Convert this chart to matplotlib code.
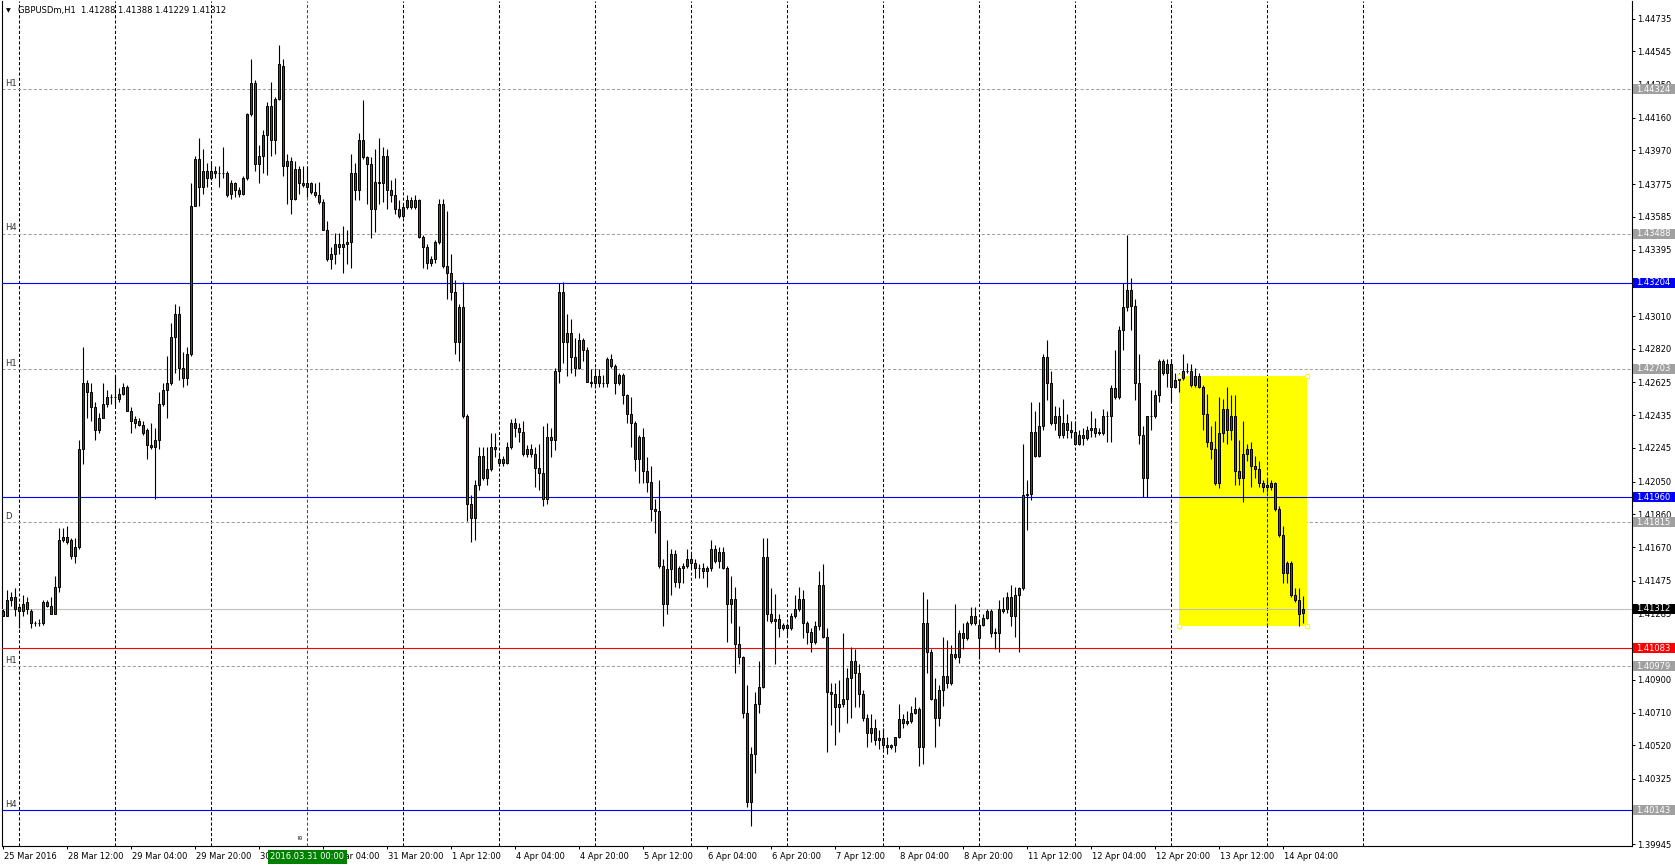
import matplotlib
matplotlib.use("Agg")
import matplotlib.pyplot as plt
from matplotlib.patches import Rectangle
from matplotlib.transforms import blended_transform_factory
import numpy as np

# ---------------- data (GBPUSDm, H1 bars from 25 Mar 2016 20:00) ----------------
symbol = "GBPUSDm,H1"

bar_open = [
1.4130,1.4127,1.4136,1.4138,1.4132,1.4130,1.4131,1.4130,1.4123,1.4123,
1.4123,1.4133,1.4133,1.4128,1.4144,1.4171,1.4173,1.4171,1.4162,1.4167,
1.4224,1.4262,1.4257,1.4248,1.4235,1.4242,1.4250,1.4254,1.4254,1.4253,
1.4256,1.4260,1.4246,1.4241,1.4240,1.4238,1.4235,1.4226,1.4225,1.4229,
1.4250,1.4258,1.4262,1.4289,1.4302,1.4271,1.4265,1.4279,1.4365,1.4392,
1.4376,1.4385,1.4381,1.4385,1.4384,1.4384,1.4384,1.4372,1.4378,1.4374,
1.4372,1.4381,1.4418,1.4436,1.4389,1.4394,1.4406,1.4423,1.4403,1.4427,
1.4446,1.4388,1.4391,1.4369,1.4386,1.4378,1.4376,1.4378,1.4373,1.4371,
1.4367,1.4351,1.4334,1.4337,1.4343,1.4341,1.4343,1.4344,1.4384,1.4374,
1.4403,1.4393,1.4389,1.4363,1.4379,1.4378,1.4394,1.4374,1.4371,1.4363,
1.4359,1.4364,1.4368,1.4364,1.4368,1.4347,1.4341,1.4332,1.4334,1.4344,
1.4366,1.4330,1.4326,1.4315,1.4286,1.4306,1.4243,1.4192,1.4184,1.4203,
1.4220,1.4207,1.4212,1.4225,1.4216,1.4218,1.4216,1.4225,1.4239,1.4236,
1.4234,1.4221,1.4224,1.4221,1.4213,1.4210,1.4195,1.4231,1.4229,1.4269,
1.4315,1.4286,1.4291,1.4277,1.4271,1.4287,1.4281,1.4263,1.4262,1.4266,
1.4262,1.4262,1.4276,1.4272,1.4262,1.4267,1.4255,1.4244,1.4239,1.4218,
1.4231,1.4211,1.4205,1.4189,1.4188,1.4156,1.4134,1.4154,1.4163,1.4147,
1.4155,1.4156,1.4160,1.4158,1.4155,1.4155,1.4153,1.4155,1.4166,1.4159,
1.4164,1.4155,1.4134,1.4137,1.4111,1.4103,1.4071,1.4019,1.4047,1.4076,
1.4086,1.4161,1.4128,1.4124,1.4125,1.4120,1.4122,1.4120,1.4127,1.4131,
1.4137,1.4123,1.4118,1.4112,1.4121,1.4145,1.4115,1.4083,1.4082,1.4074,
1.4076,1.4079,1.4091,1.4101,1.4094,1.4082,1.4068,1.4059,1.4062,1.4055,
1.4056,1.4052,1.4051,1.4052,1.4057,1.4067,1.4065,1.4066,1.4071,1.4073,
1.4051,1.4123,1.4106,1.4079,1.4068,1.4084,1.4092,1.4088,1.4105,1.4103,
1.4117,1.4114,1.4123,1.4127,1.4114,1.4122,1.4126,1.4130,1.4118,1.4117,
1.4130,1.4131,1.4138,1.4127,1.4139,1.4143,1.4197,1.4198,1.4234,1.4220,
1.4237,1.4277,1.4262,1.4239,1.4243,1.4232,1.4239,1.4235,1.4234,1.4227,
1.4232,1.4230,1.4235,1.4236,1.4234,1.4233,1.4243,1.4243,1.4259,1.4254,
1.4293,1.4306,1.4316,1.4307,1.4262,1.4232,1.4207,1.4243,1.4243,1.4255,
1.4275,1.4268,1.4273,1.4260,1.4264,1.4265,1.4269,1.4269,1.4261,1.4266,
1.4260,1.4244,1.4228,1.4224,1.4204,1.4233,1.4247,1.4235,1.4243,1.4211,
1.4207,1.4221,1.4224,1.4214,1.4212,1.4204,1.4202,1.4202,1.4204,1.4189,
1.4174,1.4152,1.4158,1.4139,1.4136,1.41288]

bar_high = [
1.4131,1.4142,1.4141,1.4143,1.4133,1.4139,1.4138,1.4131,1.4124,1.4125,
1.4136,1.4136,1.4138,1.4150,1.4178,1.4178,1.4179,1.4172,1.4172,1.4229,
1.4283,1.4264,1.4262,1.4251,1.4245,1.4262,1.4258,1.4256,1.4267,1.4259,
1.4262,1.4261,1.4248,1.4243,1.4242,1.4240,1.4236,1.4239,1.4236,1.4257,
1.4262,1.4278,1.4297,1.4308,1.4307,1.4280,1.4283,1.4378,1.4394,1.4404,
1.4398,1.4390,1.4391,1.4388,1.4388,1.4399,1.4385,1.4380,1.4379,1.4376,
1.4382,1.4419,1.4450,1.4438,1.4400,1.4409,1.4425,1.4437,1.4428,1.4458,
1.4450,1.4395,1.4393,1.4391,1.4388,1.4388,1.4388,1.4379,1.4378,1.4379,
1.4369,1.4356,1.4341,1.4349,1.4349,1.4353,1.4351,1.4395,1.4390,1.4407,
1.4426,1.4394,1.4393,1.4398,1.4404,1.4399,1.4398,1.4380,1.4381,1.4368,
1.4366,1.4371,1.4370,1.4371,1.4369,1.4348,1.4343,1.4336,1.4345,1.4369,
1.4369,1.4362,1.4337,1.4322,1.4308,1.4321,1.4244,1.4197,1.4206,1.4225,
1.4225,1.4225,1.4233,1.4233,1.4221,1.4220,1.4228,1.4241,1.4242,1.4239,
1.4240,1.4226,1.4227,1.4225,1.4227,1.4237,1.4239,1.4236,1.4271,1.4320,
1.4321,1.4302,1.4299,1.4288,1.4291,1.4288,1.4283,1.4270,1.4271,1.4270,
1.4267,1.4277,1.4279,1.4273,1.4268,1.4268,1.4256,1.4254,1.4240,1.4232,
1.4236,1.4219,1.4214,1.4195,1.4206,1.4160,1.4171,1.4166,1.4165,1.4156,
1.4158,1.4166,1.4163,1.4160,1.4157,1.4158,1.4156,1.4171,1.4168,1.4167,
1.4167,1.4156,1.4150,1.4144,1.4121,1.4104,1.4087,1.4051,1.4083,1.4101,
1.4172,1.4172,1.4143,1.4140,1.4128,1.4123,1.4123,1.4129,1.4139,1.4144,
1.4142,1.4124,1.4120,1.4124,1.4153,1.4157,1.4120,1.4088,1.4088,1.4090,
1.4117,1.4097,1.4109,1.4108,1.4099,1.4084,1.4070,1.4070,1.4067,1.4061,
1.4062,1.4057,1.4053,1.4057,1.4076,1.4070,1.4072,1.4075,1.4080,1.4074,
1.4141,1.4137,1.4108,1.4091,1.4087,1.4115,1.4113,1.4110,1.4134,1.4119,
1.4123,1.4124,1.4132,1.4132,1.4124,1.4128,1.4131,1.4131,1.4120,1.4136,
1.4138,1.4141,1.4145,1.4144,1.4144,1.4227,1.4206,1.4251,1.4246,1.4251,
1.4279,1.4287,1.4269,1.4249,1.4248,1.4253,1.4244,1.4240,1.4240,1.4235,
1.4236,1.4237,1.4246,1.4242,1.4236,1.4247,1.4246,1.4261,1.4281,1.4295,
1.4320,1.4348,1.4323,1.4311,1.4279,1.4237,1.4243,1.4258,1.4258,1.4276,
1.4276,1.4276,1.4276,1.4268,1.4268,1.4279,1.4274,1.4273,1.4271,1.4268,
1.4261,1.4256,1.4237,1.4240,1.4254,1.4253,1.4260,1.4255,1.4255,1.4229,
1.4240,1.4227,1.4228,1.4220,1.4217,1.4206,1.4207,1.4206,1.4205,1.4191,
1.4179,1.4159,1.4159,1.4143,1.4143,1.41388]

bar_low = [
1.4127,1.4127,1.4133,1.4127,1.4120,1.4127,1.4128,1.4120,1.4121,1.4121,
1.4122,1.4132,1.4128,1.4128,1.4141,1.4170,1.4169,1.4160,1.4158,1.4166,
1.4215,1.4242,1.4240,1.4229,1.4233,1.4242,1.4248,1.4250,1.4249,1.4251,
1.4255,1.4246,1.4233,1.4236,1.4237,1.4232,1.4218,1.4224,1.4195,1.4224,
1.4249,1.4242,1.4261,1.4268,1.4264,1.4260,1.4261,1.4278,1.4365,1.4365,
1.4372,1.4376,1.4380,1.4381,1.4376,1.4381,1.4370,1.4369,1.4370,1.4370,
1.4371,1.4380,1.4417,1.4385,1.4378,1.4384,1.4383,1.4394,1.4395,1.4426,
1.4382,1.4366,1.4360,1.4368,1.4372,1.4376,1.4370,1.4372,1.4370,1.4366,
1.4351,1.4333,1.4328,1.4331,1.4337,1.4326,1.4331,1.4329,1.4368,1.4368,
1.4392,1.4366,1.4346,1.4350,1.4366,1.4367,1.4363,1.4367,1.4360,1.4358,
1.4358,1.4363,1.4363,1.4363,1.4346,1.4329,1.4328,1.4330,1.4332,1.4343,
1.4329,1.4311,1.4310,1.4279,1.4275,1.4242,1.4182,1.4170,1.4171,1.4200,
1.4206,1.4203,1.4211,1.4219,1.4214,1.4214,1.4215,1.4224,1.4231,1.4228,
1.4220,1.4219,1.4219,1.4202,1.4200,1.4191,1.4192,1.4219,1.4223,1.4262,
1.4274,1.4266,1.4268,1.4266,1.4270,1.4275,1.4263,1.4260,1.4259,1.4260,
1.4260,1.4260,1.4271,1.4256,1.4261,1.4250,1.4239,1.4225,1.4211,1.4204,
1.4204,1.4199,1.4182,1.4175,1.4155,1.4121,1.4128,1.4139,1.4144,1.4143,
1.4146,1.4155,1.4155,1.4149,1.4149,1.4149,1.4144,1.4153,1.4158,1.4155,
1.4154,1.4112,1.4123,1.4094,1.4099,1.4068,1.4016,1.4005,1.4036,1.4071,
1.4085,1.4124,1.4123,1.4099,1.4115,1.4119,1.4116,1.4119,1.4126,1.4130,
1.4114,1.4111,1.4106,1.4111,1.4119,1.4114,1.4048,1.4064,1.4052,1.4060,
1.4074,1.4065,1.4068,1.4074,1.4074,1.4066,1.4051,1.4054,1.4052,1.4050,
1.4050,1.4047,1.4050,1.4048,1.4056,1.4062,1.4064,1.4065,1.4070,1.4040,
1.4041,1.4094,1.4078,1.4051,1.4063,1.4075,1.4085,1.4087,1.4102,1.4100,
1.4108,1.4113,1.4122,1.4122,1.4102,1.4121,1.4125,1.4115,1.4108,1.4106,
1.4129,1.4129,1.4121,1.4115,1.4106,1.4142,1.4177,1.4194,1.4219,1.4219,
1.4235,1.4252,1.4238,1.4235,1.4230,1.4230,1.4230,1.4230,1.4226,1.4226,
1.4226,1.4229,1.4231,1.4231,1.4232,1.4232,1.4228,1.4228,1.4253,1.4253,
1.4281,1.4304,1.4293,1.4252,1.4227,1.4196,1.4196,1.4235,1.4242,1.4251,
1.4267,1.4260,1.4251,1.4259,1.4257,1.4264,1.4268,1.4260,1.4260,1.4259,
1.4235,1.4225,1.4218,1.4203,1.4201,1.4228,1.4227,1.4229,1.4203,1.4203,
1.4193,1.4217,1.4202,1.4207,1.4202,1.4199,1.4199,1.4200,1.4188,1.4173,
1.4146,1.4146,1.4138,1.4135,1.4121,1.41229]

bar_close = [
1.4127,1.4136,1.4138,1.4131,1.4130,1.4134,1.4135,1.4123,1.4123,1.4123,
1.4135,1.4135,1.4128,1.4144,1.4171,1.4173,1.4170,1.4162,1.4167,1.4224,
1.4262,1.4257,1.4248,1.4235,1.4242,1.4250,1.4254,1.4254,1.4254,1.4256,
1.4260,1.4246,1.4240,1.4239,1.4238,1.4233,1.4226,1.4225,1.4229,1.4250,
1.4258,1.4262,1.4289,1.4302,1.4271,1.4265,1.4279,1.4365,1.4392,1.4376,
1.4385,1.4381,1.4385,1.4384,1.4384,1.4384,1.4371,1.4378,1.4374,1.4372,
1.4381,1.4418,1.4436,1.4389,1.4394,1.4406,1.4423,1.4403,1.4427,1.4447,
1.4388,1.4391,1.4369,1.4386,1.4378,1.4377,1.4378,1.4373,1.4371,1.4367,
1.4351,1.4334,1.4337,1.4343,1.4341,1.4343,1.4344,1.4384,1.4374,1.4403,
1.4393,1.4389,1.4363,1.4379,1.4378,1.4394,1.4374,1.4371,1.4363,1.4359,
1.4364,1.4368,1.4364,1.4368,1.4347,1.4341,1.4332,1.4334,1.4344,1.4366,
1.4330,1.4326,1.4315,1.4286,1.4306,1.4243,1.4192,1.4184,1.4203,1.4220,
1.4207,1.4212,1.4225,1.4224,1.4218,1.4216,1.4225,1.4239,1.4236,1.4234,
1.4221,1.4224,1.4221,1.4213,1.4210,1.4195,1.4231,1.4229,1.4269,1.4315,
1.4286,1.4291,1.4277,1.4271,1.4287,1.4281,1.4263,1.4262,1.4266,1.4262,
1.4262,1.4276,1.4272,1.4262,1.4267,1.4255,1.4244,1.4239,1.4218,1.4231,
1.4211,1.4205,1.4189,1.4188,1.4156,1.4134,1.4154,1.4163,1.4147,1.4155,
1.4156,1.4160,1.4158,1.4155,1.4155,1.4153,1.4155,1.4166,1.4159,1.4164,
1.4155,1.4134,1.4137,1.4111,1.4103,1.4071,1.4019,1.4047,1.4076,1.4086,
1.4161,1.4128,1.4124,1.4125,1.4120,1.4122,1.4120,1.4127,1.4131,1.4137,
1.4123,1.4118,1.4112,1.4121,1.4145,1.4115,1.4083,1.4082,1.4074,1.4076,
1.4079,1.4091,1.4101,1.4094,1.4082,1.4068,1.4059,1.4062,1.4055,1.4056,
1.4052,1.4051,1.4052,1.4057,1.4067,1.4065,1.4066,1.4071,1.4073,1.4051,
1.4123,1.4106,1.4079,1.4068,1.4084,1.4092,1.4088,1.4105,1.4103,1.4117,
1.4114,1.4123,1.4127,1.4123,1.4122,1.4126,1.4130,1.4117,1.4117,1.4131,
1.4131,1.4138,1.4127,1.4139,1.4143,1.4197,1.4198,1.4234,1.4220,1.4237,
1.4277,1.4262,1.4239,1.4243,1.4232,1.4239,1.4235,1.4234,1.4227,1.4232,
1.4230,1.4235,1.4236,1.4233,1.4233,1.4243,1.4243,1.4259,1.4254,1.4293,
1.4306,1.4316,1.4307,1.4262,1.4232,1.4207,1.4243,1.4243,1.4255,1.4275,
1.4268,1.4273,1.4260,1.4264,1.4265,1.4269,1.4269,1.4261,1.4266,1.4260,
1.4244,1.4228,1.4224,1.4204,1.4233,1.4247,1.4235,1.4243,1.4211,1.4207,
1.4221,1.4224,1.4214,1.4212,1.4204,1.4202,1.4203,1.4204,1.4189,1.4174,
1.4152,1.4158,1.4139,1.4136,1.4128,1.41312]

# time axis labels: one every 16 bars, starting at bar 0
time_labels = ["25 Mar 2016", "28 Mar 12:00", "29 Mar 04:00", "29 Mar 20:00",
               "30 Mar 12:00", "31 Mar 04:00", "31 Mar 20:00", "1 Apr 12:00",
               "4 Apr 04:00", "4 Apr 20:00", "5 Apr 12:00", "6 Apr 04:00",
               "6 Apr 20:00", "7 Apr 12:00", "8 Apr 04:00", "8 Apr 20:00",
               "11 Apr 12:00", "12 Apr 04:00", "12 Apr 20:00", "13 Apr 12:00",
               "14 Apr 04:00"]
time_label_step = 16
# bars that start a new trading day (period separators)
day_start_bars = [4, 28, 52, 100, 124, 148, 172, 196, 220, 244, 268, 292, 316, 340]
marker_bar = 76
marker_label = "2016.03.31 00:00"

# price scale labels
price_ticks = [1.44735, 1.44545, 1.44350, 1.44160, 1.43970, 1.43775, 1.43585,
               1.43395, 1.43205, 1.43010, 1.42820, 1.42625, 1.42435, 1.42245,
               1.42050, 1.41860, 1.41670, 1.41475, 1.41285, 1.41090, 1.40900,
               1.40710, 1.40520, 1.40325, 1.40135, 1.39945]

# pivot-type levels (grey dashed) and their timeframe tags
level_prices = [1.44324, 1.43488, 1.42703, 1.41815, 1.40979, 1.40143]
level_tags = ["H1", "H4", "H1", "D", "H1", "H4"]
blue_lines = [1.43204, 1.41960, 1.40143]
red_lines = [1.41083]

# yellow rectangle object (bar range, price range)
rect_bar_start, rect_bar_end = 294, 326
rect_price_low, rect_price_high = 1.41212, 1.42662

# ---------------- drawing ----------------
W, H = 1675, 867
FS = 6.0
plt.rcParams["font.family"] = ["DejaVu Sans"]
fig = plt.figure(figsize=(W / 100, H / 100), dpi=100, facecolor="white")
ax = fig.add_axes([2 / W, 21 / H, 1630 / W, 845 / H])
ax.set_facecolor("white")
ax.set_xlim(-0.325, 407.175)
ax.set_ylim(1.39936, 1.44837)

o = np.array(bar_open)
h = np.array(bar_high)
l = np.array(bar_low)
c = np.array(bar_close)
x = np.arange(len(o))

dash = (0, (3, 2))
# period separators
for d in day_start_bars:
    ax.axvline(d, color="black", lw=0.75, ls=dash, zorder=1)
ax.axvline(marker_bar, color="#008000", lw=0.75, ls=dash, zorder=1.1)

# grey dashed levels
for p in level_prices:
    ax.axhline(p, color="#a0a0a0", lw=0.75, ls=dash, zorder=1)

# yellow rectangle
ax.add_patch(Rectangle((rect_bar_start, rect_price_low), rect_bar_end - rect_bar_start,
                       rect_price_high - rect_price_low, facecolor="#ffff00",
                       edgecolor="none", zorder=1.5))
for d in day_start_bars:
    if rect_bar_start < d < rect_bar_end:
        ax.vlines(d, rect_price_low, rect_price_high, color="#0000a0", lw=0.75,
                  ls=dash, zorder=1.6)

# solid levels
for p in blue_lines:
    ax.axhline(p, color="#0000ff", lw=0.8, zorder=3)
for p in red_lines:
    ax.axhline(p, color="#ff0000", lw=0.8, zorder=3)
ax.axhline(c[-1], color="#c0c0c0", lw=0.8, zorder=3)

# candles
ax.vlines(x, l, h, color="black", lw=0.8, zorder=4)
up = c >= o
colors = np.where(up, "#008000", "#ff0000")
ax.bar(x, np.abs(c - o), bottom=np.minimum(o, c), width=0.55, color=colors,
       edgecolor="black", linewidth=0.7, zorder=5)

# rectangle handles
ax.plot([rect_bar_start, rect_bar_end, rect_bar_start, rect_bar_end],
        [rect_price_low, rect_price_low, rect_price_high, rect_price_high],
        ls="none", marker="s", ms=3, mfc="white", mec="#ffff00", mew=0.8, zorder=6)

# spines
ax.spines["top"].set_visible(False)
for s in ["left", "right", "bottom"]:
    ax.spines[s].set_color("black")
    ax.spines[s].set_linewidth(0.8)

# right price scale
ax.yaxis.tick_right()
ax.set_yticks(price_ticks)
ax.set_yticklabels([f"{v:.5f}" for v in price_ticks])
ax.tick_params(axis="y", direction="out", length=2.5, width=0.7, pad=1.5,
               labelsize=FS, colors="black")

# bottom time scale
tick_pos = [k * time_label_step for k in range(len(time_labels))]
ax.set_xticks(tick_pos)
ax.set_xticklabels([""] * len(tick_pos))
ax.tick_params(axis="x", direction="out", length=2.5, width=0.7)
bx = blended_transform_factory(ax.transData, ax.transAxes)
for pos, lab in zip(tick_pos, time_labels):
    ax.text(pos + 0.3, -10.5 / 845, lab, transform=bx, ha="left", va="center",
            fontsize=FS, color="black", clip_on=False)
ax.text(marker_bar, -10.5 / 845, marker_label, transform=bx, ha="center",
        va="center", fontsize=FS, color="white", clip_on=False, zorder=20,
        bbox=dict(boxstyle="square,pad=0.3", fc="#008000", ec="none"))
ax.text(marker_bar - 1.6, 1.3999, "B", rotation=90, fontsize=4.5, ha="center",
        va="center", color="black", zorder=6)

# right-hand price boxes
by = blended_transform_factory(ax.transAxes, ax.transData)
box_h = 0.00058
def price_box(p, fc, tc="white"):
    ax.add_patch(Rectangle((1631 / 1630, p - box_h / 2), 43 / 1630, box_h,
                           transform=by, facecolor=fc, edgecolor="none",
                           clip_on=False, zorder=10))
    ax.text(1634 / 1630, p, f"{p:.5f}", transform=by, ha="left", va="center",
            fontsize=FS, color=tc, clip_on=False, zorder=11)

for p in level_prices:
    price_box(p, "#a0a0a0")
for p in blue_lines:
    if p not in level_prices:
        price_box(p, "#0000ff")
for p in red_lines:
    price_box(p, "#ff0000")
price_box(c[-1], "#000000")

# timeframe tags on the left
for p, tag in zip(level_prices, level_tags):
    ax.annotate(tag, xy=(3 / 1630, p), xycoords=by, xytext=(0, 0.8),
                textcoords="offset points", ha="left", va="bottom",
                fontsize=FS, color="#303030", zorder=6)

# header
fig.text(6 / W, 1 - 10.5 / H, "\u25bc", fontsize=4.5, ha="left", va="center", color="black")
fig.text(18 / W, 1 - 10.5 / H,
         f"{symbol}  {o[-1]:.5f} {h[-1]:.5f} {l[-1]:.5f} {c[-1]:.5f}",
         fontsize=FS, ha="left", va="center", color="black")

fig.savefig("out.png", dpi=100, facecolor="white")
